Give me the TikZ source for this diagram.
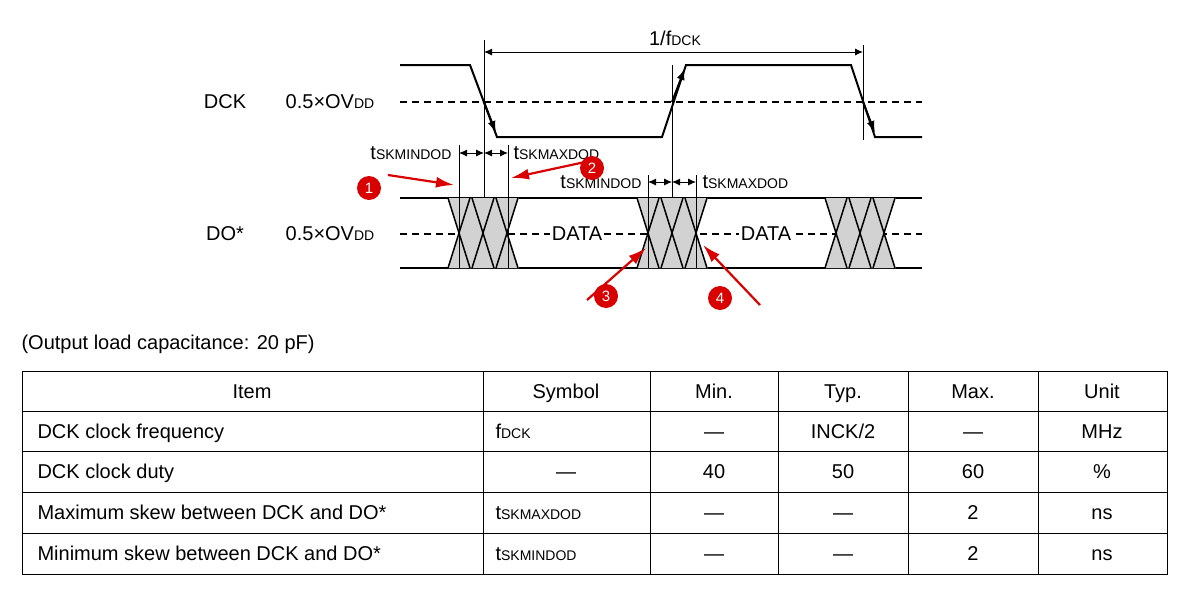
\documentclass[tikz,border=0pt]{standalone}
\usepackage{fontspec}
\setmainfont{Liberation Sans}
\usetikzlibrary{arrows.meta}
\newcommand{\sub}[1]{{\fontsize{14}{14}\selectfont #1}}
\begin{document}
\begin{tikzpicture}[x=1pt,y=-1pt,
    every node/.style={font=\fontsize{20}{22}\selectfont},
    sig/.style={line width=2pt},
    thin/.style={line width=0.6pt},
    mid/.style={dashed, line width=1.2pt, dash pattern=on 7pt off 5pt},
    dim/.style={line width=0.9pt, {Latex[length=8pt,width=7pt]}-{Latex[length=8pt,width=7pt]}},
    badge/.style={circle, fill=red!85!black, text=white, inner sep=0pt, minimum size=24pt, font=\fontsize{15}{15}\selectfont},
    pointer/.style={red!85!black, line width=2.2pt, -{Latex[length=18pt,width=11pt]}},
    cell/.style={font=\fontsize{20}{22}\selectfont, anchor=base, text depth=0pt},
    lcell/.style={cell, anchor=base west}
]
\useasboundingbox (0,0) rectangle (1195,592);
% labels
\node (dck) at (225,102) {DCK};
\node (dcklvl) at (330,102) {0.5×OV\sub{DD}};
\node (do) at (225,234) {DO*};
\node (dolvl) at (330,234) {0.5×OV\sub{DD}};
% DCK waveform
\draw[mid] (400,102) -- (922,102);
\draw[sig] (400,65) -- (470,65) -- (497,137) -- (662,137) -- (686,65) -- (851,65) -- (875,137) -- (922,137);
\draw[sig,-{Latex[length=12pt,width=8pt]}] (484,102) -- (496,133);
\draw[sig,-{Latex[length=12pt,width=8pt]}] (672,102) -- (685,68);
\draw[sig,-{Latex[length=12pt,width=8pt]}] (863,102) -- (875,133);
% period
\draw[thin] (484,40) -- (484,268);
\draw[thin] (672,65) -- (672,268);
\draw[thin] (863,45) -- (863,140);
\draw[dim] (484,52) -- (863,52);
\node (per) at (675,38) {1/f\sub{DCK}};
% DO lines
\draw[sig] (400,198) -- (922,198);
\draw[sig] (400,268) -- (922,268);
\draw[mid] (400,234) -- (922,234);
% eyes
\foreach \c in {459,648,836} {
  \fill[gray!35] (\c-11,198) -- (\c+60,198) -- (\c+48,233) -- (\c+60,268) -- (\c-11,268) -- (\c,233) -- cycle;
  \foreach \d in {0,24,48} {
    \draw[line width=1.5pt] (\c+\d-11,198) -- (\c+\d+11,268);
    \draw[line width=1.5pt] (\c+\d+11,198) -- (\c+\d-11,268);
  }
}
\node[fill=white, inner sep=2pt] (data1) at (577,234) {DATA};
\node[fill=white, inner sep=2pt] (data2) at (766,234) {DATA};
% skew
\draw[thin] (459,145) -- (459,268);
\draw[thin] (508,145) -- (508,268);
\draw[thin] (648,175) -- (648,268);
\draw[thin] (696,175) -- (696,268);
\draw[dim] (459,153) -- (484,153);
\draw[dim] (484,153) -- (508,153);
\draw[dim] (648,182) -- (672,182);
\draw[dim] (672,182) -- (696,182);
\node[anchor=east] (min1) at (455,153) {t\sub{SKMINDOD}};
\node[anchor=west] (max1) at (510,153) {t\sub{SKMAXDOD}};
\node[anchor=east] (min2) at (645,182) {t\sub{SKMINDOD}};
\node[anchor=west] (max2) at (699,182) {t\sub{SKMAXDOD}};
% annotations
\draw[pointer] (388,175) -- (454,185);
\draw[pointer] (585,162) -- (511,178);
\draw[pointer] (587,300) -- (646,248);
\draw[pointer] (760,305) -- (703,245);
\node[badge] (m1) at (369,188) {1};
\node[badge] (m2) at (592,168) {2};
\node[badge] (m3) at (606,296) {3};
\node[badge] (m4) at (720,298) {4};
% table
\node[lcell] (cap) at (18,349) {(Output load capacitance: 20 pF)};
\draw[line width=0.8pt] (22,371) rectangle (1167,574);
\foreach \y in {411,451,492,533} \draw[line width=0.8pt] (22,\y) -- (1167,\y);
\foreach \x in {483,650,778,908,1038} \draw[line width=0.8pt] (\x,371) -- (\x,574);
\foreach \cx/\t in {252/Item,566/Symbol,714/Min.,843/Typ.,973/Max.,1102/Unit}
  \node[cell] at (\cx,398) {\t};
\node[lcell] at (34,438) {DCK clock frequency};
\node[lcell] at (34,478) {DCK clock duty};
\node[lcell] at (34,519) {Maximum skew between DCK and DO*};
\node[lcell] at (34,560) {Minimum skew between DCK and DO*};
\node[lcell] at (492,438) {f\sub{DCK}};
\node[cell] at (566,478) {—};
\node[lcell] at (492,519) {t\sub{SKMAXDOD}};
\node[lcell] at (492,560) {t\sub{SKMINDOD}};
\foreach \y/\a/\b/\c/\u in {438/—/INCK\slash 2/—/MHz, 478/40/50/60/\%, 519/—/—/2/ns, 560/—/—/2/ns} {
  \node[cell] at (714,\y) {\a};
  \node[cell] at (843,\y) {\b};
  \node[cell] at (973,\y) {\c};
  \node[cell] at (1102,\y) {\u};
}
\end{tikzpicture}
\end{document}
